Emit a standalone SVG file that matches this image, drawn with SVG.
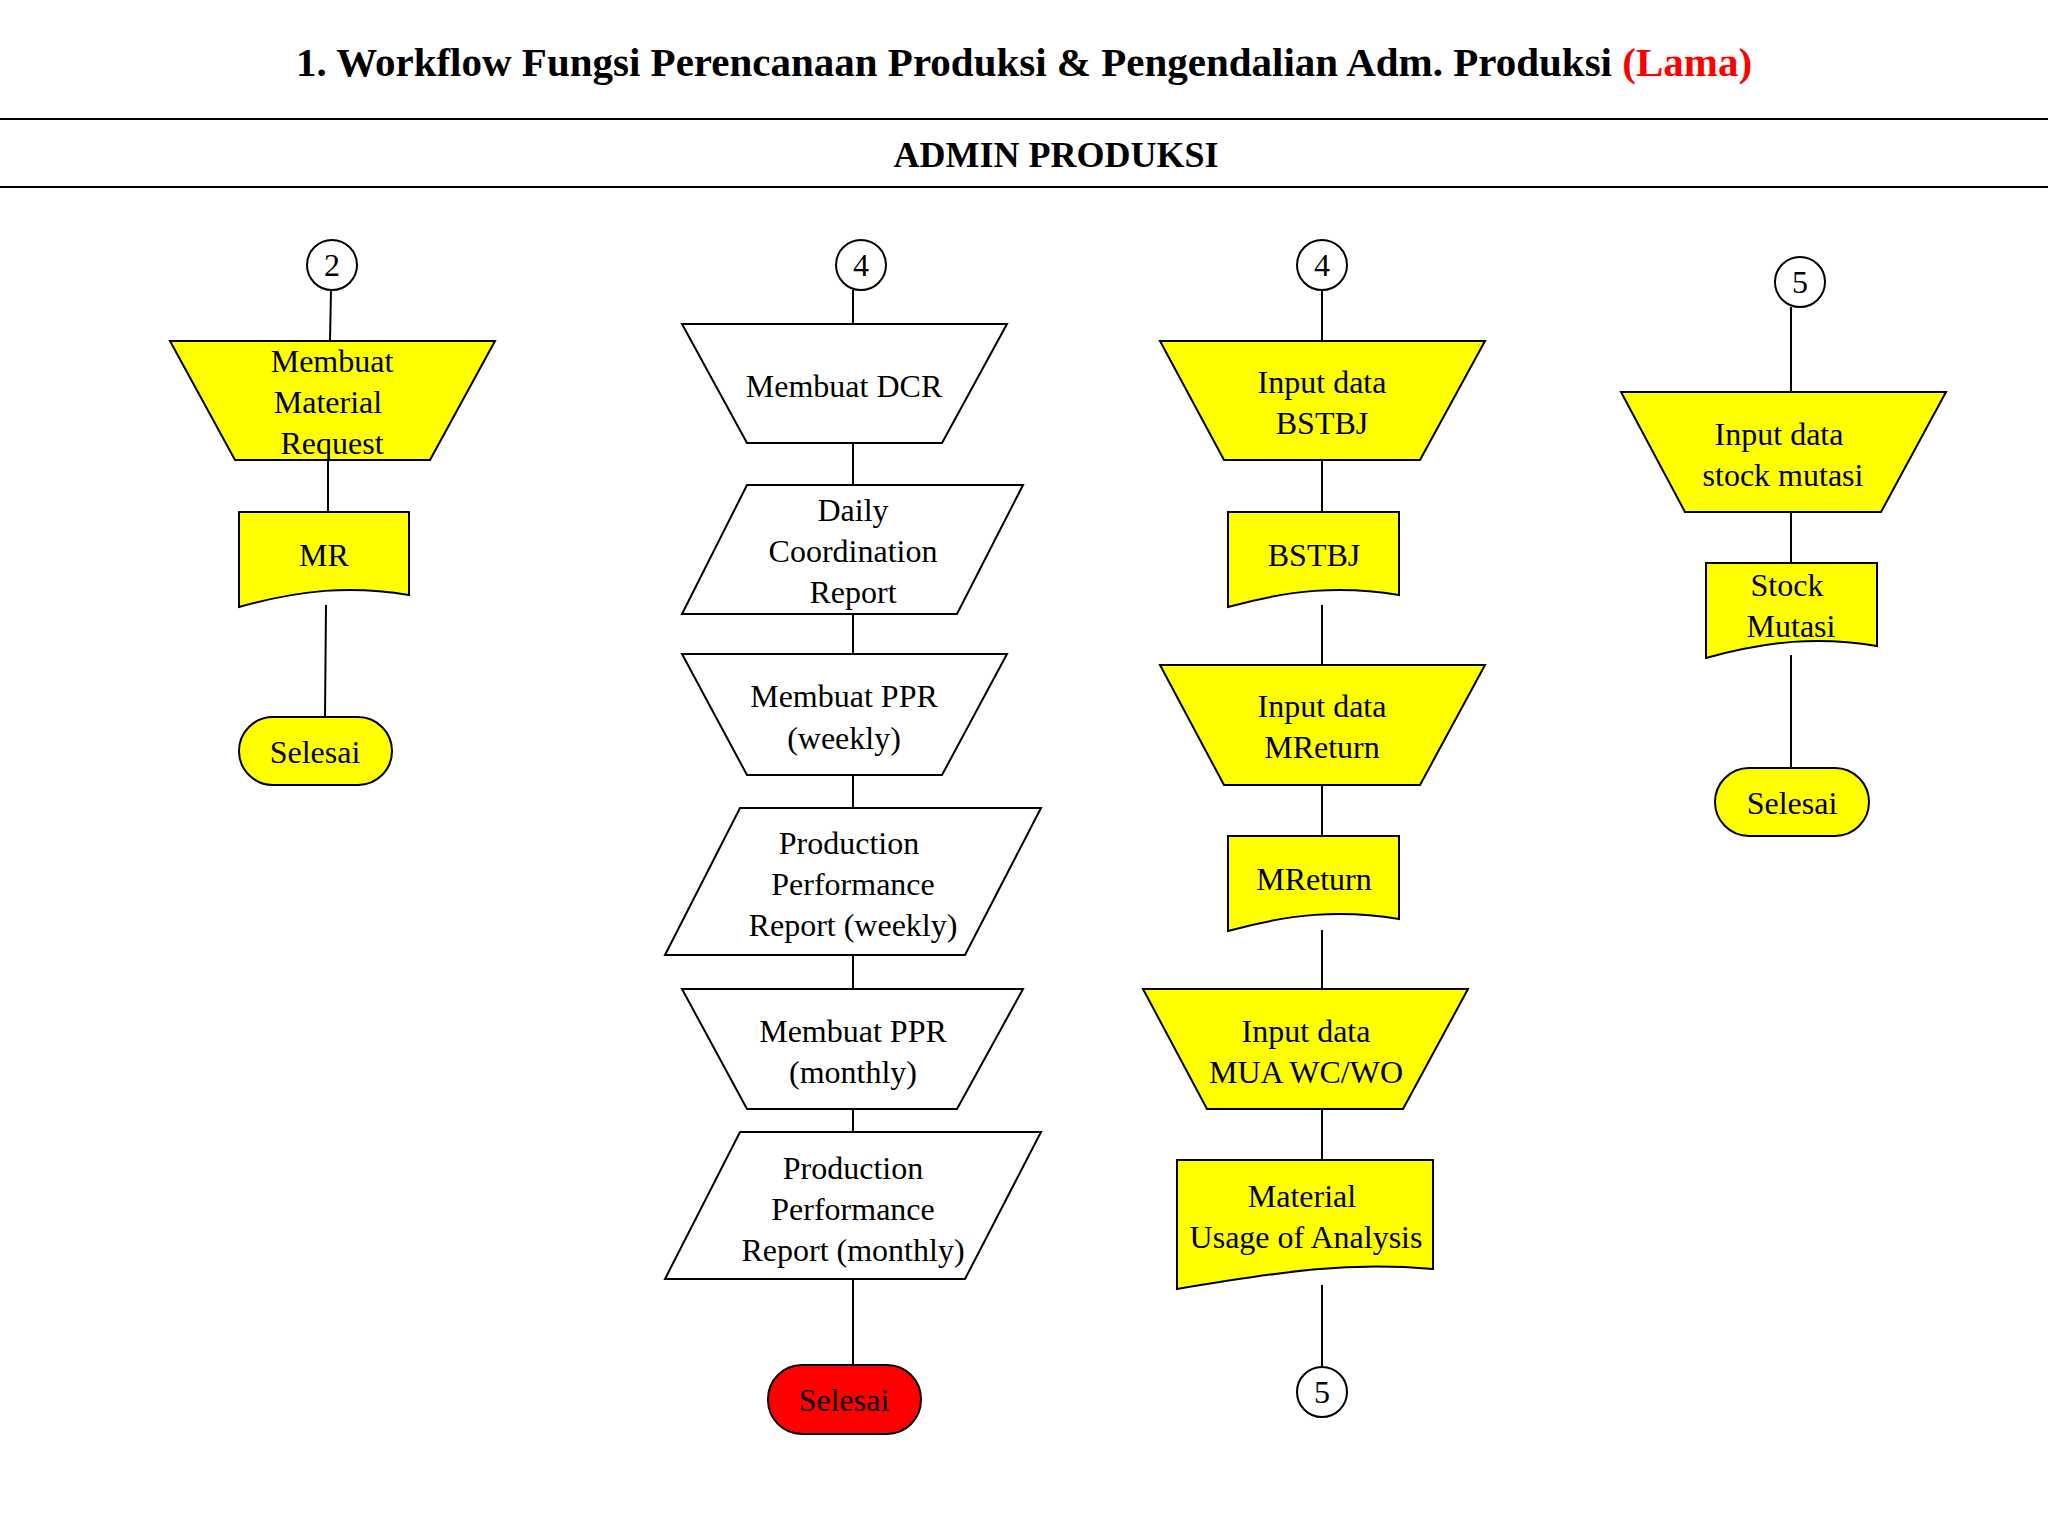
<svg xmlns="http://www.w3.org/2000/svg" width="2048" height="1536" viewBox="0 0 2048 1536">
<style>
.n{fill:#ffff00;stroke:#000;stroke-width:2}
.c{fill:#fff;stroke:#000;stroke-width:2}
.p{fill:#fff;stroke:#000;stroke-width:2}
.t{font-family:"Liberation Serif",serif;font-size:32px;text-anchor:middle;fill:#000}
.l{stroke:#000;stroke-width:2;fill:none}
</style>
<rect width="2048" height="1536" fill="#fff"/>
<text x="1024" y="76" font-family="Liberation Serif,serif" font-size="41" font-weight="bold" text-anchor="middle">1. Workflow Fungsi Perencanaan Produksi &amp; Pengendalian Adm. Produksi <tspan fill="#ff0000">(Lama)</tspan></text>
<line x1="0" y1="119" x2="2048" y2="119" class="l"/>
<text x="1056" y="167" font-family="Liberation Serif,serif" font-size="36" font-weight="bold" text-anchor="middle">ADMIN PRODUKSI</text>
<line x1="0" y1="187" x2="2048" y2="187" class="l"/>
<g id="connectors">
<path class="l" d="M331 290 L330 341 M328 460 L328 512 M326 605 L325 717"/>
<path class="l" d="M853 290 V324 M853 443 V485 M853 614 V654 M853 775 V808 M853 955 V989 M853 1109 V1132 M853 1279 V1365"/>
<path class="l" d="M1322 290 V341 M1322 460 V512 M1322 605 V665 M1322 785 V836 M1322 930 V989 M1322 1109 V1160 M1322 1285 V1367"/>
<path class="l" d="M1791 307 V392 M1791 512 V563 M1791 655 V768"/>
</g>
<g id="c2"><circle class="c" cx="332" cy="265" r="25"/><text class="t" x="332" y="276">2</text></g>
<g id="mmr"><polygon class="n" points="170,341 495,341 430,460 235,460"/><text class="t" x="332" y="372">Membuat</text><text class="t" x="328" y="413">Material</text><text class="t" x="332" y="454">Request</text></g>
<g id="mr"><path class="n" d="M239 512 H409 V595 C350 585 300 590 239 607 Z"/><text class="t" x="324" y="566">MR</text></g>
<g id="sel1"><rect class="n" x="239" y="717" width="153" height="68" rx="34"/><text class="t" x="315" y="763">Selesai</text></g>

<g id="c4a"><circle class="c" cx="861" cy="265" r="25"/><text class="t" x="861" y="276">4</text></g>
<g id="dcr"><polygon class="p" points="682,324 1007,324 942,443 747,443"/><text class="t" x="844" y="397">Membuat DCR</text></g>
<g id="dcrr"><polygon class="p" points="747,485 1023,485 957,614 682,614"/><text class="t" x="853" y="521">Daily</text><text class="t" x="853" y="562">Coordination</text><text class="t" x="853" y="603">Report</text></g>
<g id="pprw"><polygon class="p" points="682,654 1007,654 942,775 747,775"/><text class="t" x="844" y="707">Membuat PPR</text><text class="t" x="844" y="749">(weekly)</text></g>
<g id="pprwr"><polygon class="p" points="740,808 1041,808 965,955 665,955"/><text class="t" x="849" y="854">Production</text><text class="t" x="853" y="895">Performance</text><text class="t" x="853" y="936">Report (weekly)</text></g>
<g id="pprm"><polygon class="p" points="682,989 1023,989 957,1109 747,1109"/><text class="t" x="853" y="1042">Membuat PPR</text><text class="t" x="853" y="1083">(monthly)</text></g>
<g id="pprmr"><polygon class="p" points="740,1132 1041,1132 965,1279 665,1279"/><text class="t" x="853" y="1179">Production</text><text class="t" x="853" y="1220">Performance</text><text class="t" x="853" y="1261">Report (monthly)</text></g>
<g id="sel2"><rect x="768" y="1365" width="153" height="69" rx="34" fill="#ff0000" stroke="#000" stroke-width="2"/><text class="t" x="844" y="1411">Selesai</text></g>

<g id="c4b"><circle class="c" cx="1322" cy="265" r="25"/><text class="t" x="1322" y="276">4</text></g>
<g id="ibstbj"><polygon class="n" points="1160,341 1485,341 1420,460 1224,460"/><text class="t" x="1322" y="393">Input data</text><text class="t" x="1322" y="434">BSTBJ</text></g>
<g id="bstbj"><path class="n" d="M1228 512 H1399 V595 C1340 585 1290 590 1228 607 Z"/><text class="t" x="1314" y="566">BSTBJ</text></g>
<g id="imr"><polygon class="n" points="1160,665 1485,665 1420,785 1224,785"/><text class="t" x="1322" y="717">Input data</text><text class="t" x="1322" y="758">MReturn</text></g>
<g id="mret"><path class="n" d="M1228 836 H1399 V919 C1340 909 1290 914 1228 931 Z"/><text class="t" x="1314" y="890">MReturn</text></g>
<g id="imua"><polygon class="n" points="1143,989 1468,989 1403,1109 1207,1109"/><text class="t" x="1306" y="1042">Input data</text><text class="t" x="1306" y="1083">MUA WC/WO</text></g>
<g id="mua"><path class="n" d="M1177 1160 H1433 V1269 C1350 1262 1290 1270 1177 1289 Z"/><text class="t" x="1302" y="1207">Material</text><text class="t" x="1306" y="1248">Usage of Analysis</text></g>
<g id="c5a"><circle class="c" cx="1322" cy="1392" r="25"/><text class="t" x="1322" y="1403">5</text></g>

<g id="c5b"><circle class="c" cx="1800" cy="282" r="25"/><text class="t" x="1800" y="293">5</text></g>
<g id="ism"><polygon class="n" points="1621,392 1946,392 1881,512 1685,512"/><text class="t" x="1779" y="445">Input data</text><text class="t" x="1783" y="486">stock mutasi</text></g>
<g id="sm"><path class="n" d="M1706 563 H1877 V646 C1818 636 1768 641 1706 658 Z"/><text class="t" x="1787" y="596">Stock</text><text class="t" x="1791" y="637">Mutasi</text></g>
<g id="sel3"><rect class="n" x="1715" y="768" width="154" height="68" rx="34"/><text class="t" x="1792" y="814">Selesai</text></g>
</svg>
